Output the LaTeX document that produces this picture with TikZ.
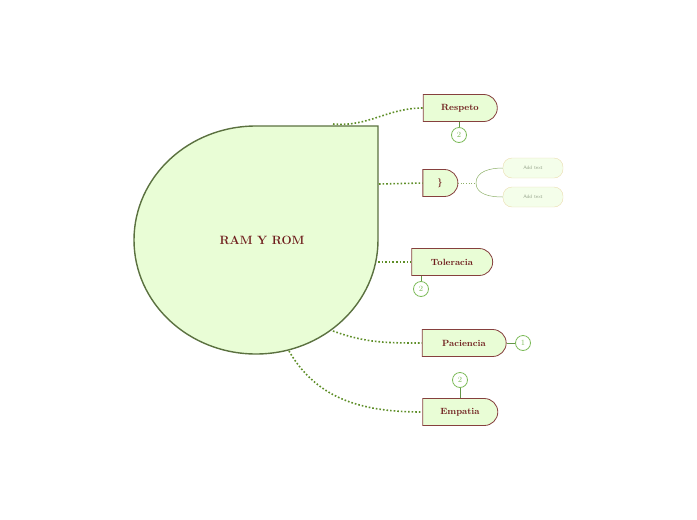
\documentclass[tikz,border=0pt]{standalone}
\usetikzlibrary{shapes.misc}
\definecolor{fillg}{HTML}{E9FDD6}
\definecolor{dred}{HTML}{6E1C1C}
\definecolor{bred}{HTML}{86403E}
\definecolor{gline}{HTML}{5E8E28}
\definecolor{cborder}{HTML}{5B7140}
\definecolor{badge}{HTML}{7DBB5A}
\definecolor{addb}{HTML}{EBDDB0}
\definecolor{addt}{HTML}{9AA890}
\begin{document}
\begin{tikzpicture}[x=1pt,y=-1pt,
 topic/.style={shape=rounded rectangle, rounded rectangle west arc=none, draw=bred, fill=fillg, line width=0.8pt, minimum height=27pt, text=dred, font=\bfseries\small, inner sep=0pt},
 conn/.style={gline, line width=1.6pt, dotted},
 bdg/.style={circle, draw=badge, line width=0.8pt, minimum size=15pt, inner sep=0pt, text=badge, font=\footnotesize},
 addbox/.style={draw=addb, fill=fillg!50, rounded corners=9pt, minimum width=60pt, minimum height=20pt, text=addt, font=\tiny\sffamily},
 bline/.style={badge!80!black, line width=1pt}]
\useasboundingbox (0,0) rectangle (697,520);
\draw[cborder, fill=fillg, line width=1.4pt] (378,240) arc[start angle=0, end angle=270, x radius=122, y radius=114] -- (378,126) -- cycle;
\node[text=dred, font=\bfseries\large] (c) at (262,240) {RAM Y ROM};
\coordinate (c1) at (333,124);
\coordinate (c2) at (379,184);
\coordinate (c3) at (378,262);
\coordinate (c4) at (333,331);
\coordinate (c5) at (289,351);
\node[topic, minimum width=74pt] (r) at (460,108) {Respeto};
\node[topic, minimum width=35pt] (k) at (440,183) {\}};
\node[topic, minimum width=81pt] (t) at (452,262) {Toleracia};
\node[topic, minimum width=84pt] (p) at (464,343) {Paciencia};
\node[topic, minimum width=75pt] (e) at (460,412) {Empatia};
\node[addbox] (a1) at (533,168) {Add text};
\node[addbox] (a2) at (533,197) {Add text};
\draw[conn] (c1) to[out=-5, in=180] (r.west);
\draw[conn] (c2) -- (k.west);
\draw[conn] (c3) -- (t.west);
\draw[conn] (c4) to[out=-20, in=180] (p.west);
\draw[conn] (c5) to[out=-60, in=180] (e.west);
\draw[gline!70, line width=0.6pt, dotted] (k.east) -- (476,183);
\draw[gline!70, line width=0.5pt] (476,183) to[out=90, in=180] (a1.west);
\draw[gline!70, line width=0.5pt] (476,183) to[out=-90, in=180] (a2.west);
\node[bdg] (b1) at (459,135) {2};
\node[bdg] (b2) at (421,289) {2};
\node[bdg] (b3) at (523,343) {1};
\node[bdg] (b4) at (460,380) {2};
\draw[bline] (r.south -| b1) -- (b1);
\draw[bline] (b2) -- (421,276);
\draw[bline] (p.east) -- (b3);
\draw[bline] (b4) -- (e.north -| b4);
\end{tikzpicture}
\end{document}
